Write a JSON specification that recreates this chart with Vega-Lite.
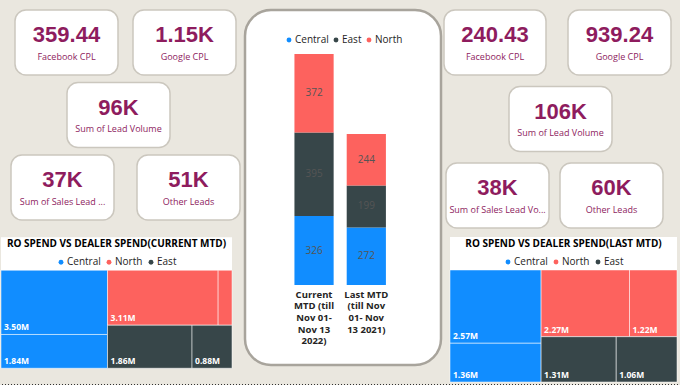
{
  "$schema": "https://vega.github.io/schema/vega-lite/v6.json",
  "background": "#EAE7DF",
  "padding": {"left": 0, "top": 8, "right": 0, "bottom": 0},
  "datasets": {
    "cards": [
      {"card": "L1", "part": "value", "text": "359.44"}, {"card": "L1", "part": "name", "text": "Facebook CPL"},
      {"card": "L2", "part": "value", "text": "1.15K"}, {"card": "L2", "part": "name", "text": "Google CPL"},
      {"card": "L3", "part": "value", "text": "96K"}, {"card": "L3", "part": "name", "text": "Sum of Lead Volume"},
      {"card": "L4", "part": "value", "text": "37K"}, {"card": "L4", "part": "name", "text": "Sum of Sales Lead ..."},
      {"card": "L5", "part": "value", "text": "51K"}, {"card": "L5", "part": "name", "text": "Other Leads"},
      {"card": "R1", "part": "value", "text": "240.43"}, {"card": "R1", "part": "name", "text": "Facebook CPL"},
      {"card": "R2", "part": "value", "text": "939.24"}, {"card": "R2", "part": "name", "text": "Google CPL"},
      {"card": "R3", "part": "value", "text": "106K"}, {"card": "R3", "part": "name", "text": "Sum of Lead Volume"},
      {"card": "R4", "part": "value", "text": "38K"}, {"card": "R4", "part": "name", "text": "Sum of Sales Lead Vo..."},
      {"card": "R5", "part": "value", "text": "60K"}, {"card": "R5", "part": "name", "text": "Other Leads"}
    ],
    "tree": [
      {"period": "Current", "region": "Central", "value": 3.50, "label": "3.50M"},
      {"period": "Current", "region": "Central", "value": 1.84, "label": "1.84M"},
      {"period": "Current", "region": "North", "value": 3.11, "label": "3.11M"},
      {"period": "Current", "region": "North", "value": 0.39, "label": "0.39M"},
      {"period": "Current", "region": "East", "value": 1.86, "label": "1.86M"},
      {"period": "Current", "region": "East", "value": 0.88, "label": "0.88M"},
      {"period": "Last", "region": "Central", "value": 2.57, "label": "2.57M"},
      {"period": "Last", "region": "Central", "value": 1.36, "label": "1.36M"},
      {"period": "Last", "region": "North", "value": 2.27, "label": "2.27M"},
      {"period": "Last", "region": "North", "value": 1.22, "label": "1.22M"},
      {"period": "Last", "region": "East", "value": 1.31, "label": "1.31M"},
      {"period": "Last", "region": "East", "value": 1.06, "label": "1.06M"}
    ],
    "bars": [
      {"period": "Current MTD (till Nov 01- Nov 13 2022)", "region": "Central", "value": 326},
      {"period": "Current MTD (till Nov 01- Nov 13 2022)", "region": "East", "value": 395},
      {"period": "Current MTD (till Nov 01- Nov 13 2022)", "region": "North", "value": 372},
      {"period": "Last MTD (till Nov 01- Nov 13 2021)", "region": "Central", "value": 272},
      {"period": "Last MTD (till Nov 01- Nov 13 2021)", "region": "East", "value": 199},
      {"period": "Last MTD (till Nov 01- Nov 13 2021)", "region": "North", "value": 244}
    ]
  },
  "spacing": 1,
  "resolve": {"scale": {"color": "independent"}},
  "vconcat": [
  {
  "spacing": 0,
  "resolve": {"scale": {"color": "independent"}},
  "hconcat": [
    {
      "spacing": 16.25, "resolve": {"scale": {"color": "independent"}},
      "vconcat": [
        {
          "spacing": 5.5,
          "vconcat": [
            {"spacing": 0, "bounds": "flush", "hconcat": [
              {"width": 14, "height": 1, "data": {"values": [{}]}, "mark": {"type": "point", "size": 0, "opacity": 0, "strokeWidth": 0}},
              {"width": 103, "height": 65, "view": {"fill": "white", "stroke": "#cbc7be", "strokeWidth": 1.5, "cornerRadius": 11}, "data": {"name": "cards"}, "transform": [{"filter": "datum.card == 'L1'"}], "encoding": {"y": {"field": "part", "type": "ordinal", "scale": {"type": "point", "domain": ["value", "name"], "padding": 1.08, "align": 0.58}, "axis": null}, "text": {"field": "text", "type": "nominal"}}, "layer": [{"transform": [{"filter": "datum.part == 'value'"}], "mark": {"type": "text", "font": "Liberation Sans", "fontSize": 22, "fontWeight": "bold", "color": "#8E1C5E"}}, {"transform": [{"filter": "datum.part == 'name'"}], "mark": {"type": "text", "font": "Open Sans", "fontSize": 9, "color": "#8E1C5E"}}]},
              {"width": 15, "height": 1, "data": {"values": [{}]}, "mark": {"type": "point", "size": 0, "opacity": 0, "strokeWidth": 0}},
              {"width": 103, "height": 65, "view": {"fill": "white", "stroke": "#cbc7be", "strokeWidth": 1.5, "cornerRadius": 11}, "data": {"name": "cards"}, "transform": [{"filter": "datum.card == 'L2'"}], "encoding": {"y": {"field": "part", "type": "ordinal", "scale": {"type": "point", "domain": ["value", "name"], "padding": 1.08, "align": 0.58}, "axis": null}, "text": {"field": "text", "type": "nominal"}}, "layer": [{"transform": [{"filter": "datum.part == 'value'"}], "mark": {"type": "text", "font": "Liberation Sans", "fontSize": 22, "fontWeight": "bold", "color": "#8E1C5E"}}, {"transform": [{"filter": "datum.part == 'name'"}], "mark": {"type": "text", "font": "Open Sans", "fontSize": 9, "color": "#8E1C5E"}}]}
            ]},
            {"spacing": 0, "bounds": "flush", "hconcat": [
              {"width": 66, "height": 1, "data": {"values": [{}]}, "mark": {"type": "point", "size": 0, "opacity": 0, "strokeWidth": 0}},
              {"width": 103, "height": 65, "view": {"fill": "white", "stroke": "#cbc7be", "strokeWidth": 1.5, "cornerRadius": 11}, "data": {"name": "cards"}, "transform": [{"filter": "datum.card == 'L3'"}], "encoding": {"y": {"field": "part", "type": "ordinal", "scale": {"type": "point", "domain": ["value", "name"], "padding": 1.08, "align": 0.58}, "axis": null}, "text": {"field": "text", "type": "nominal"}}, "layer": [{"transform": [{"filter": "datum.part == 'value'"}], "mark": {"type": "text", "font": "Liberation Sans", "fontSize": 22, "fontWeight": "bold", "color": "#8E1C5E"}}, {"transform": [{"filter": "datum.part == 'name'"}], "mark": {"type": "text", "font": "Open Sans", "fontSize": 9, "color": "#8E1C5E"}}]}
            ]},
            {"spacing": 0, "bounds": "flush", "hconcat": [
              {"width": 10, "height": 1, "data": {"values": [{}]}, "mark": {"type": "point", "size": 0, "opacity": 0, "strokeWidth": 0}},
              {"width": 103, "height": 65, "view": {"fill": "white", "stroke": "#cbc7be", "strokeWidth": 1.5, "cornerRadius": 11}, "data": {"name": "cards"}, "transform": [{"filter": "datum.card == 'L4'"}], "encoding": {"y": {"field": "part", "type": "ordinal", "scale": {"type": "point", "domain": ["value", "name"], "padding": 1.08, "align": 0.58}, "axis": null}, "text": {"field": "text", "type": "nominal"}}, "layer": [{"transform": [{"filter": "datum.part == 'value'"}], "mark": {"type": "text", "font": "Liberation Sans", "fontSize": 22, "fontWeight": "bold", "color": "#8E1C5E"}}, {"transform": [{"filter": "datum.part == 'name'"}], "mark": {"type": "text", "font": "Open Sans", "fontSize": 9, "color": "#8E1C5E"}}]},
              {"width": 23, "height": 1, "data": {"values": [{}]}, "mark": {"type": "point", "size": 0, "opacity": 0, "strokeWidth": 0}},
              {"width": 103, "height": 65, "view": {"fill": "white", "stroke": "#cbc7be", "strokeWidth": 1.5, "cornerRadius": 11}, "data": {"name": "cards"}, "transform": [{"filter": "datum.card == 'L5'"}], "encoding": {"y": {"field": "part", "type": "ordinal", "scale": {"type": "point", "domain": ["value", "name"], "padding": 1.08, "align": 0.58}, "axis": null}, "text": {"field": "text", "type": "nominal"}}, "layer": [{"transform": [{"filter": "datum.part == 'value'"}], "mark": {"type": "text", "font": "Liberation Sans", "fontSize": 22, "fontWeight": "bold", "color": "#8E1C5E"}}, {"transform": [{"filter": "datum.part == 'name'"}], "mark": {"type": "text", "font": "Open Sans", "fontSize": 9, "color": "#8E1C5E"}}]}
            ]}
          ]
        },
        {
          "width": 231, "height": 131,
          "view": {"fill": "white", "stroke": null},
          "title": {"text": "RO SPEND VS DEALER SPEND(CURRENT MTD)", "anchor": "middle", "offset": -12, "font": "Open Sans", "fontSize": 10, "fontWeight": "bold", "color": "#000000"},
          "data": {"name": "tree"},
          "transform": [{"filter": "datum.period == 'Current'"}],
          "resolve": {"scale": {"x": "independent"}},
          "layer": [
            {
              "transform": [
                {"stack": "value", "groupby": [], "sort": [{"field": "region", "order": "ascending"}], "offset": "normalize", "as": ["s0", "s1"]},
                {"joinaggregate": [{"op": "min", "field": "s0", "as": "cx0"}, {"op": "max", "field": "s1", "as": "cx1"}], "groupby": ["region"]},
                {"filter": "datum.region == 'Central'"},
                {"stack": "value", "groupby": [], "sort": [{"field": "value", "order": "descending"}], "offset": "normalize", "as": ["y0", "y1"]}
              ],
              "layer": [
                {"mark": {"type": "rect", "stroke": "white", "strokeOpacity": 0.5, "strokeWidth": 1},
                 "encoding": {
                   "x": {"field": "cx0", "type": "quantitative", "scale": {"domain": [0, 1], "nice": false, "zero": false}, "axis": null},
                   "x2": {"field": "cx1"},
                   "y": {"field": "y0", "type": "quantitative", "scale": {"domain": [-0.3367, 1], "reverse": true, "nice": false, "zero": false}, "axis": null},
                   "y2": {"field": "y1"},
                   "color": {"field": "region", "type": "nominal", "scale": {"domain": ["Central", "North", "East"], "range": ["#118DFF", "#FD625E", "#374649"]}, "legend": {"orient": "top", "direction": "horizontal", "offset": -30, "title": null, "symbolType": "circle", "symbolSize": 24, "symbolStrokeWidth": 0, "labelFont": "Open Sans", "labelFontSize": 10, "labelColor": "#252423", "columnPadding": 3, "labelOffset": 1}}
                 }},
                {"transform": [{"filter": "datum.value >= 0.5"}],
                 "mark": {"type": "text", "align": "left", "baseline": "bottom", "dx": 3, "dy": -2, "color": "white", "font": "Open Sans", "fontWeight": "bold", "fontSize": 8.5},
                 "encoding": {"x": {"field": "cx0", "type": "quantitative"}, "y": {"field": "y1", "type": "quantitative"}, "text": {"field": "label", "type": "nominal"}}}
              ]
            },
            {
              "transform": [
                {"filter": "datum.region != 'Central'"},
                {"joinaggregate": [{"op": "sum", "field": "value", "as": "rt"}], "groupby": ["region"]},
                {"stack": "value", "groupby": [], "sort": [{"field": "rt", "order": "descending"}, {"field": "value", "order": "descending"}], "offset": "normalize", "as": ["t0", "t1"]},
                {"joinaggregate": [{"op": "min", "field": "t0", "as": "ry0"}, {"op": "max", "field": "t1", "as": "ry1"}], "groupby": ["region"]},
                {"stack": "value", "groupby": ["region"], "sort": [{"field": "value", "order": "descending"}], "offset": "normalize", "as": ["x0", "x1"]}
              ],
              "layer": [
                {"mark": {"type": "rect", "stroke": "white", "strokeOpacity": 0.5, "strokeWidth": 1},
                 "encoding": {
                   "x": {"field": "x0", "type": "quantitative", "scale": {"domain": [-0.8558, 1], "nice": false, "zero": false}, "axis": null},
                   "x2": {"field": "x1"},
                   "y": {"field": "ry0", "type": "quantitative", "scale": {"domain": [-0.3367, 1], "reverse": true, "nice": false, "zero": false}, "axis": null},
                   "y2": {"field": "ry1"},
                   "color": {"field": "region", "type": "nominal", "scale": {"domain": ["Central", "North", "East"], "range": ["#118DFF", "#FD625E", "#374649"]}, "legend": {"orient": "top", "direction": "horizontal", "offset": -30, "title": null, "symbolType": "circle", "symbolSize": 24, "symbolStrokeWidth": 0, "labelFont": "Open Sans", "labelFontSize": 10, "labelColor": "#252423", "columnPadding": 3, "labelOffset": 1}}
                 }},
                {"transform": [{"filter": "datum.value >= 0.5"}],
                 "mark": {"type": "text", "align": "left", "baseline": "bottom", "dx": 3, "dy": -2, "color": "white", "font": "Open Sans", "fontWeight": "bold", "fontSize": 8.5},
                 "encoding": {"x": {"field": "x0", "type": "quantitative"}, "y": {"field": "ry1", "type": "quantitative"}, "text": {"field": "label", "type": "nominal"}}}
              ]
            }
          ]
        }
      ]
    },
    {"width": 2, "height": 1, "data": {"values": [{}]}, "mark": {"type": "point", "size": 0, "opacity": 0, "strokeWidth": 0}},
    {
      "width": 196, "height": 355,
      "view": {"fill": "white", "stroke": "#a8a49c", "strokeWidth": 2.5, "cornerRadius": 26},
      "data": {"name": "bars"},
      "transform": [{"stack": "value", "groupby": ["period"], "sort": [{"field": "region", "order": "ascending"}], "as": ["v0", "v1"]}],
      "encoding": {
        "x": {"field": "period", "type": "nominal", "sort": null, "scale": {"paddingInner": 0.25, "paddingOuter": 1.1667, "align": 0.473},
              "axis": {"title": null, "orient": "bottom", "offset": -80, "domain": false, "ticks": false, "labelAngle": 0, "labelPadding": 4, "labelFont": "Open Sans", "labelFontWeight": "bold", "labelFontSize": 9.5, "labelColor": "#252423", "labelLineHeight": 11.7, "labelBaseline": "top", "labelLimit": 0, "labelOverlap": false,
                       "labelExpr": "datum.value == 'Current MTD (till Nov 01- Nov 13 2022)' ? ['Current', 'MTD (till', 'Nov 01-', 'Nov 13', '2022)'] : ['Last MTD', '(till Nov', '01- Nov', '13 2021)']"}}
      },
      "layer": [
        {"mark": {"type": "bar"},
         "encoding": {
           "y": {"field": "v0", "type": "quantitative", "scale": {"domain": [-378.5, 1301.2], "nice": false, "zero": false}, "axis": null},
           "y2": {"field": "v1"},
           "color": {"field": "region", "type": "nominal", "scale": {"domain": ["Central", "East", "North"], "range": ["#118DFF", "#374649", "#FD625E"]}, "legend": {"orient": "top", "direction": "horizontal", "offset": -35, "title": null, "symbolType": "circle", "symbolSize": 24, "symbolStrokeWidth": 0, "labelFont": "Open Sans", "labelFontSize": 10, "labelColor": "#252423", "columnPadding": 2, "labelOffset": 1}}}},
        {"transform": [{"fold": ["v0", "v1"], "as": ["edge", "pos"]}, {"aggregate": [{"op": "mean", "field": "pos", "as": "mid"}, {"op": "max", "field": "value", "as": "value"}], "groupby": ["period", "region"]}],
         "mark": {"type": "text", "color": "#555555", "font": "Open Sans", "fontSize": 10},
         "encoding": {
           "y": {"field": "mid", "type": "quantitative", "scale": {"domain": [-378.5, 1301.2], "nice": false, "zero": false}, "axis": null},
           "text": {"field": "value", "type": "quantitative"}}}
      ]
    },
    {
      "spacing": 8, "resolve": {"scale": {"color": "independent"}},
      "vconcat": [
        {
          "spacing": 9.5,
          "vconcat": [
            {"spacing": 0, "bounds": "flush", "hconcat": [
              {"width": 102, "height": 65, "view": {"fill": "white", "stroke": "#cbc7be", "strokeWidth": 1.5, "cornerRadius": 11}, "data": {"name": "cards"}, "transform": [{"filter": "datum.card == 'R1'"}], "encoding": {"y": {"field": "part", "type": "ordinal", "scale": {"type": "point", "domain": ["value", "name"], "padding": 1.08, "align": 0.58}, "axis": null}, "text": {"field": "text", "type": "nominal"}}, "layer": [{"transform": [{"filter": "datum.part == 'value'"}], "mark": {"type": "text", "font": "Liberation Sans", "fontSize": 22, "fontWeight": "bold", "color": "#8E1C5E"}}, {"transform": [{"filter": "datum.part == 'name'"}], "mark": {"type": "text", "font": "Open Sans", "fontSize": 9, "color": "#8E1C5E"}}]},
              {"width": 22, "height": 1, "data": {"values": [{}]}, "mark": {"type": "point", "size": 0, "opacity": 0, "strokeWidth": 0}},
              {"width": 103, "height": 65, "view": {"fill": "white", "stroke": "#cbc7be", "strokeWidth": 1.5, "cornerRadius": 11}, "data": {"name": "cards"}, "transform": [{"filter": "datum.card == 'R2'"}], "encoding": {"y": {"field": "part", "type": "ordinal", "scale": {"type": "point", "domain": ["value", "name"], "padding": 1.08, "align": 0.58}, "axis": null}, "text": {"field": "text", "type": "nominal"}}, "layer": [{"transform": [{"filter": "datum.part == 'value'"}], "mark": {"type": "text", "font": "Liberation Sans", "fontSize": 22, "fontWeight": "bold", "color": "#8E1C5E"}}, {"transform": [{"filter": "datum.part == 'name'"}], "mark": {"type": "text", "font": "Open Sans", "fontSize": 9, "color": "#8E1C5E"}}]}
            ]},
            {"spacing": 0, "bounds": "flush", "hconcat": [
              {"width": 65, "height": 1, "data": {"values": [{}]}, "mark": {"type": "point", "size": 0, "opacity": 0, "strokeWidth": 0}},
              {"width": 103, "height": 65, "view": {"fill": "white", "stroke": "#cbc7be", "strokeWidth": 1.5, "cornerRadius": 11}, "data": {"name": "cards"}, "transform": [{"filter": "datum.card == 'R3'"}], "encoding": {"y": {"field": "part", "type": "ordinal", "scale": {"type": "point", "domain": ["value", "name"], "padding": 1.08, "align": 0.58}, "axis": null}, "text": {"field": "text", "type": "nominal"}}, "layer": [{"transform": [{"filter": "datum.part == 'value'"}], "mark": {"type": "text", "font": "Liberation Sans", "fontSize": 22, "fontWeight": "bold", "color": "#8E1C5E"}}, {"transform": [{"filter": "datum.part == 'name'"}], "mark": {"type": "text", "font": "Open Sans", "fontSize": 9, "color": "#8E1C5E"}}]}
            ]},
            {"spacing": 0, "bounds": "flush", "hconcat": [
              {"width": 2, "height": 1, "data": {"values": [{}]}, "mark": {"type": "point", "size": 0, "opacity": 0, "strokeWidth": 0}},
              {"width": 103, "height": 65, "view": {"fill": "white", "stroke": "#cbc7be", "strokeWidth": 1.5, "cornerRadius": 11}, "data": {"name": "cards"}, "transform": [{"filter": "datum.card == 'R4'"}], "encoding": {"y": {"field": "part", "type": "ordinal", "scale": {"type": "point", "domain": ["value", "name"], "padding": 1.08, "align": 0.58}, "axis": null}, "text": {"field": "text", "type": "nominal"}}, "layer": [{"transform": [{"filter": "datum.part == 'value'"}], "mark": {"type": "text", "font": "Liberation Sans", "fontSize": 22, "fontWeight": "bold", "color": "#8E1C5E"}}, {"transform": [{"filter": "datum.part == 'name'"}], "mark": {"type": "text", "font": "Open Sans", "fontSize": 9, "color": "#8E1C5E"}}]},
              {"width": 11, "height": 1, "data": {"values": [{}]}, "mark": {"type": "point", "size": 0, "opacity": 0, "strokeWidth": 0}},
              {"width": 103, "height": 65, "view": {"fill": "white", "stroke": "#cbc7be", "strokeWidth": 1.5, "cornerRadius": 11}, "data": {"name": "cards"}, "transform": [{"filter": "datum.card == 'R5'"}], "encoding": {"y": {"field": "part", "type": "ordinal", "scale": {"type": "point", "domain": ["value", "name"], "padding": 1.08, "align": 0.58}, "axis": null}, "text": {"field": "text", "type": "nominal"}}, "layer": [{"transform": [{"filter": "datum.part == 'value'"}], "mark": {"type": "text", "font": "Liberation Sans", "fontSize": 22, "fontWeight": "bold", "color": "#8E1C5E"}}, {"transform": [{"filter": "datum.part == 'name'"}], "mark": {"type": "text", "font": "Open Sans", "fontSize": 9, "color": "#8E1C5E"}}]}
            ]}
          ]
        },
        {"spacing": 0, "bounds": "flush", "resolve": {"scale": {"color": "independent"}}, "hconcat": [
          {"width": 6, "height": 1, "data": {"values": [{}]}, "mark": {"type": "point", "size": 0, "opacity": 0, "strokeWidth": 0}},
          {
            "width": 227, "height": 145,
            "view": {"fill": "white", "stroke": null},
            "title": {"text": "RO SPEND VS DEALER SPEND(LAST MTD)", "anchor": "middle", "offset": -12, "font": "Open Sans", "fontSize": 10, "fontWeight": "bold", "color": "#000000"},
            "data": {"name": "tree"},
            "transform": [{"filter": "datum.period == 'Last'"}],
            "resolve": {"scale": {"x": "independent"}},
            "layer": [
              {
                "transform": [
                  {"stack": "value", "groupby": [], "sort": [{"field": "region", "order": "ascending"}], "offset": "normalize", "as": ["s0", "s1"]},
                  {"joinaggregate": [{"op": "min", "field": "s0", "as": "cx0"}, {"op": "max", "field": "s1", "as": "cx1"}], "groupby": ["region"]},
                  {"filter": "datum.region == 'Central'"},
                  {"stack": "value", "groupby": [], "sort": [{"field": "value", "order": "descending"}], "offset": "normalize", "as": ["y0", "y1"]}
                ],
                "layer": [
                  {"mark": {"type": "rect", "stroke": "white", "strokeOpacity": 0.5, "strokeWidth": 1},
                   "encoding": {
                     "x": {"field": "cx0", "type": "quantitative", "scale": {"domain": [0, 1], "nice": false, "zero": false}, "axis": null},
                     "x2": {"field": "cx1"},
                     "y": {"field": "y0", "type": "quantitative", "scale": {"domain": [-0.2946, 1], "reverse": true, "nice": false, "zero": false}, "axis": null},
                     "y2": {"field": "y1"},
                     "color": {"field": "region", "type": "nominal", "scale": {"domain": ["Central", "North", "East"], "range": ["#118DFF", "#FD625E", "#374649"]}, "legend": {"orient": "top", "direction": "horizontal", "offset": -30, "title": null, "symbolType": "circle", "symbolSize": 24, "symbolStrokeWidth": 0, "labelFont": "Open Sans", "labelFontSize": 10, "labelColor": "#252423", "columnPadding": 3, "labelOffset": 1}}
                   }},
                  {"transform": [{"filter": "datum.value >= 0.5"}],
                   "mark": {"type": "text", "align": "left", "baseline": "bottom", "dx": 3, "dy": -2, "color": "white", "font": "Open Sans", "fontWeight": "bold", "fontSize": 8.5},
                   "encoding": {"x": {"field": "cx0", "type": "quantitative"}, "y": {"field": "y1", "type": "quantitative"}, "text": {"field": "label", "type": "nominal"}}}
                ]
              },
              {
                "transform": [
                  {"filter": "datum.region != 'Central'"},
                  {"joinaggregate": [{"op": "sum", "field": "value", "as": "rt"}], "groupby": ["region"]},
                  {"stack": "value", "groupby": [], "sort": [{"field": "rt", "order": "descending"}, {"field": "value", "order": "descending"}], "offset": "normalize", "as": ["t0", "t1"]},
                  {"joinaggregate": [{"op": "min", "field": "t0", "as": "ry0"}, {"op": "max", "field": "t1", "as": "ry1"}], "groupby": ["region"]},
                  {"stack": "value", "groupby": ["region"], "sort": [{"field": "value", "order": "descending"}], "offset": "normalize", "as": ["x0", "x1"]}
                ],
                "layer": [
                  {"mark": {"type": "rect", "stroke": "white", "strokeOpacity": 0.5, "strokeWidth": 1},
                   "encoding": {
                     "x": {"field": "x0", "type": "quantitative", "scale": {"domain": [-0.6706, 1], "nice": false, "zero": false}, "axis": null},
                     "x2": {"field": "x1"},
                     "y": {"field": "ry0", "type": "quantitative", "scale": {"domain": [-0.2946, 1], "reverse": true, "nice": false, "zero": false}, "axis": null},
                     "y2": {"field": "ry1"},
                     "color": {"field": "region", "type": "nominal", "scale": {"domain": ["Central", "North", "East"], "range": ["#118DFF", "#FD625E", "#374649"]}, "legend": {"orient": "top", "direction": "horizontal", "offset": -30, "title": null, "symbolType": "circle", "symbolSize": 24, "symbolStrokeWidth": 0, "labelFont": "Open Sans", "labelFontSize": 10, "labelColor": "#252423", "columnPadding": 3, "labelOffset": 1}}
                   }},
                  {"transform": [{"filter": "datum.value >= 0.5"}],
                   "mark": {"type": "text", "align": "left", "baseline": "bottom", "dx": 3, "dy": -2, "color": "white", "font": "Open Sans", "fontWeight": "bold", "fontSize": 8.5},
                   "encoding": {"x": {"field": "x0", "type": "quantitative"}, "y": {"field": "ry1", "type": "quantitative"}, "text": {"field": "label", "type": "nominal"}}}
                ]
              }
            ]
          }
        ]}
      ]
    }
  ]
  },
  {
    "width": 680, "height": 1,
    "data": {"values": [{"line": 0}]},
    "mark": {"type": "rule", "color": "#333333", "strokeWidth": 1, "strokeDash": [1, 2]},
    "encoding": {"y": {"field": "line", "type": "quantitative", "axis": null}}
  }
  ],
  "config": {
    "view": {"stroke": null},
    "legend": {"layout": {"anchor": "middle", "top": {"anchor": "middle"}}}
  }
}
